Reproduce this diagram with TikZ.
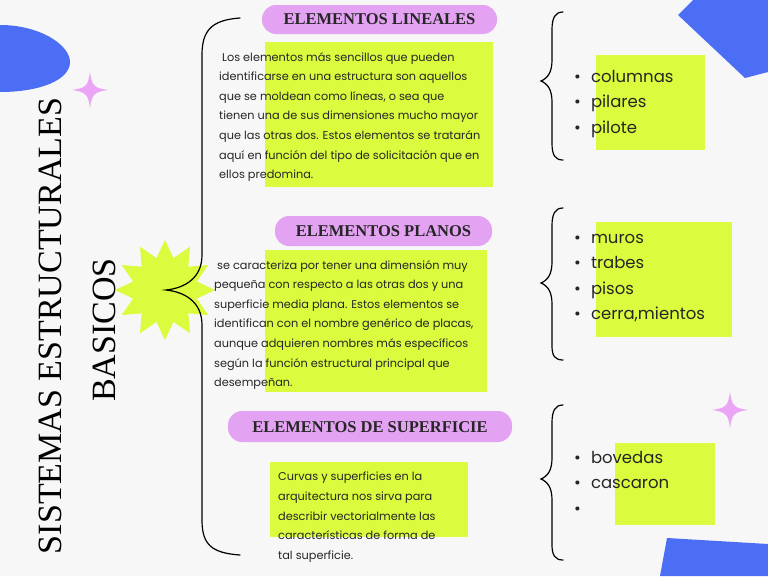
\documentclass[tikz,border=0pt]{standalone}
\usepackage{fontspec}
\setmainfont{Poppins}
\newfontfamily\serifb{Liberation Serif}
\definecolor{bg}{HTML}{F7F7F7}
\definecolor{lime}{HTML}{DAFB3E}
\definecolor{pinkh}{HTML}{E3A2F2}
\definecolor{blueb}{HTML}{4C6EF5}
\definecolor{starp}{HTML}{EBA5F5}
\tikzset{
 hdr/.style={fill=pinkh,rounded corners=14pt,inner sep=0pt},
 hdrtxt/.style={font=\serifb\bfseries\fontsize{16.5}{18}\selectfont,text=black!85},
 gbox/.style={fill=lime},
 para/.style={font=\fontsize{11.3}{19.6}\selectfont,align=left,anchor=north west,inner sep=0pt,text=black!85},
 blist/.style={font=\fontsize{16.5}{25.5}\selectfont,align=left,anchor=north west,inner sep=0pt,text=black!85},
 brace/.style={draw=black,line width=1.2pt,line cap=round}
}
\begin{document}
\begin{tikzpicture}[x=1pt,y=-1pt]
\useasboundingbox (0,0) rectangle (768,576);
\fill[bg] (0,0) rectangle (768,576);
% blue shapes
\fill[blueb] (0,25) .. controls (40,25) and (70,45) .. (70,62) .. controls (70,80) and (40,92) .. (0,92) -- cycle;
\fill[blueb] (693,0) -- (768,0) -- (768,72) -- (745,78) -- (678,15) -- cycle;
\fill[blueb] (667,538) -- (768,544) -- (768,576) -- (660,576) -- cycle;
% pink stars
\fill[starp] (90,72) .. controls (92,86) and (94,88) .. (108,90) .. controls (94,92) and (92,94) .. (90,108) .. controls (88,94) and (86,92) .. (72,90) .. controls (86,88) and (88,86) .. (90,72) -- cycle;
\fill[starp] (730,392) .. controls (732,406) and (734,408) .. (748,410) .. controls (734,412) and (732,414) .. (730,428) .. controls (728,414) and (726,412) .. (712,410) .. controls (726,408) and (728,406) .. (730,392) -- cycle;
% burst
\fill[lime] plot[samples=25,domain=0:24] ({165+(mod(round(\x),2)==0?50:33)*cos(\x*15+90)},{290-(mod(round(\x),2)==0?50:33)*sin(\x*15+90)}) -- cycle;
% title
\node[rotate=90,font=\serifb\fontsize{34}{36}\selectfont] (t1) at (50,326) {SISTEMAS ESTRUCTURALES};
\node[rotate=90,font=\serifb\fontsize{34}{36}\selectfont] (t2) at (104,330) {BASICOS};
% main brace
\draw[brace] (240,18) .. controls (212,20) and (202,30) .. (202,55) -- (202,255) .. controls (202,278) and (185,288) .. (166,290) .. controls (185,292) and (202,302) .. (202,325) -- (202,520) .. controls (202,545) and (212,553) .. (240,555);
% right braces
\draw[brace] (563,12) .. controls (555,12) and (552,18) .. (552,30) -- (552,60) .. controls (552,72) and (548,78) .. (541,81) .. controls (548,84) and (552,90) .. (552,102) -- (552,143) .. controls (552,155) and (555,160) .. (563,160);
\draw[brace] (563,208) .. controls (555,208) and (552,214) .. (552,226) -- (552,262) .. controls (552,274) and (548,280) .. (541,283) .. controls (548,286) and (552,292) .. (552,304) -- (552,346) .. controls (552,356) and (555,360) .. (563,360);
\draw[brace] (563,405) .. controls (555,405) and (552,411) .. (552,423) -- (552,458) .. controls (552,470) and (548,476) .. (541,479) .. controls (548,482) and (552,488) .. (552,500) -- (552,545) .. controls (552,555) and (555,560) .. (563,560);
% headers
\fill[hdr] (262,5) rectangle (497,34);
\node[hdrtxt] (h1) at (379.5,19.5) {ELEMENTOS LINEALES};
\fill[hdr] (275,216) rectangle (492,246);
\node[hdrtxt] (h2) at (383.5,231) {ELEMENTOS PLANOS};
\fill[hdr] (228,411) rectangle (512,442);
\node[hdrtxt] (h3) at (370,427) {ELEMENTOS DE SUPERFICIE};
% green boxes
\fill[gbox] (265,42) rectangle (493,187);
\fill[gbox] (265,250) rectangle (487,392);
\fill[gbox] (270,462) rectangle (468,537);
\fill[gbox] (596,55) rectangle (705,150);
\fill[gbox] (596,222) rectangle (732,337);
\fill[gbox] (615,443) rectangle (715,525);
% paragraphs
\node[para] (p1) at (219,52) {\ Los elementos más sencillos que pueden\\identificarse en una estructura son aquellos\\que se moldean como líneas, o sea que\\tienen una de sus dimensiones mucho mayor\\que las otras dos. Estos elementos se tratarán\\aquí en función del tipo de solicitación que en\\ellos predomina.};
\node[para] (p2) at (214,260) {\ se caracteriza por tener una dimensión muy\\pequeña con respecto a las otras dos y una\\superficie media plana. Estos elementos se\\identifican con el nombre genérico de placas,\\aunque adquieren nombres más específicos\\según la función estructural principal que\\desempeñan.};
\node[para] (p3) at (278,472) {Curvas y superficies en la\\arquitectura nos sirva para\\describir vectorialmente las\\características de forma de\\tal superficie.};
% lists
\node[blist] (l1) at (574,70) {•\hspace{10pt}columnas\\•\hspace{10pt}pilares\\•\hspace{10pt}pilote};
\node[blist] (l2) at (574,234) {•\hspace{10pt}muros\\•\hspace{10pt}trabes\\•\hspace{10pt}pisos\\•\hspace{10pt}cerra,mientos};
\node[blist] (l3) at (574,451) {•\hspace{10pt}bovedas\\•\hspace{10pt}cascaron\\•};
\end{tikzpicture}
\end{document}
